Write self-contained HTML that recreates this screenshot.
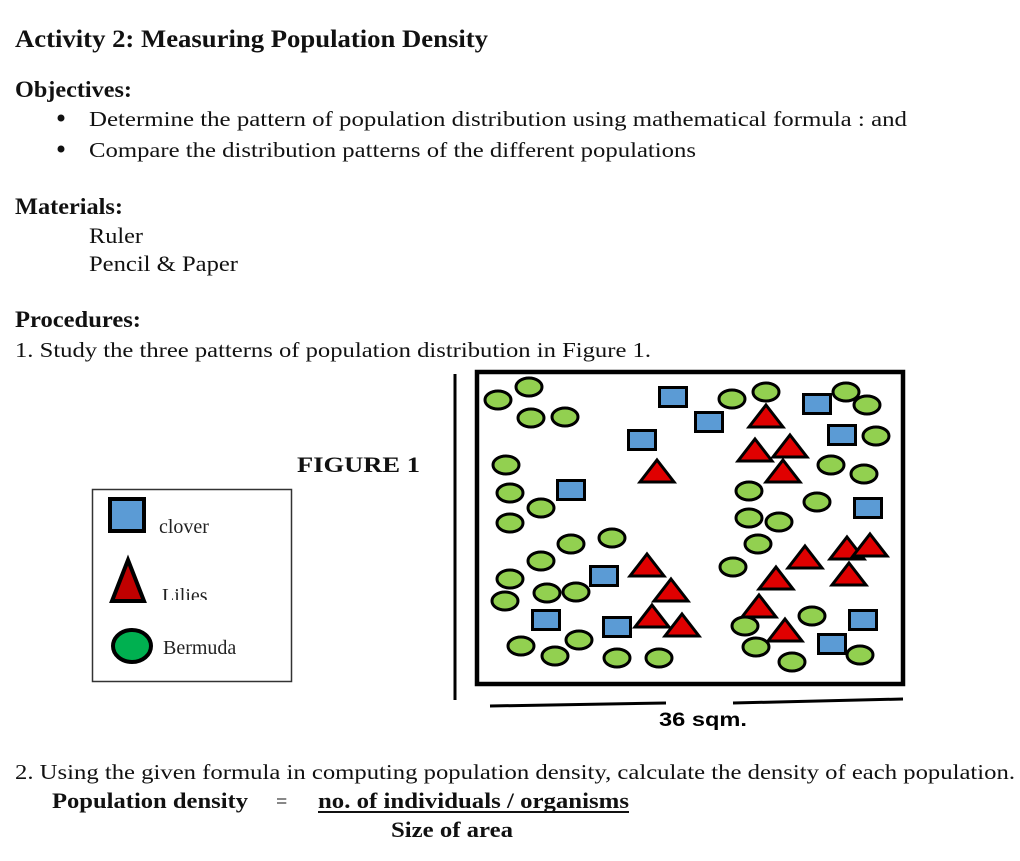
<!DOCTYPE html>
<html><head><meta charset="utf-8"><style>html,body{margin:0;padding:0;background:#fff}svg{display:block}</style></head>
<body>
<svg width="1020" height="861" viewBox="0 0 1020 861" xmlns="http://www.w3.org/2000/svg">
<defs>
<polygon id="t" points="0,-13 17,9 -17,9" fill="#e00000" stroke="#000" stroke-width="3" stroke-linejoin="miter"/>
<rect id="s" x="-13.5" y="-9.5" width="27" height="19" fill="#5b9bd5" stroke="#000" stroke-width="3"/>
<ellipse id="e" rx="13" ry="9" fill="#92d050" stroke="#000" stroke-width="3"/>
</defs>
<g font-family="Liberation Serif, serif" fill="#111">
<text x="15" y="47" font-size="25" font-weight="bold" textLength="473" lengthAdjust="spacingAndGlyphs">Activity 2: Measuring Population Density</text>
<text x="15" y="97" font-size="23" font-weight="bold" textLength="117" lengthAdjust="spacingAndGlyphs">Objectives:</text>
<circle cx="61" cy="118" r="3.5"/>
<circle cx="61" cy="149" r="3.5"/>
<text x="89" y="126" font-size="21" textLength="818" lengthAdjust="spacingAndGlyphs">Determine the pattern of population distribution using  mathematical formula : and</text>
<text x="89" y="157" font-size="21" textLength="607" lengthAdjust="spacingAndGlyphs">Compare the distribution patterns of the different populations</text>
<text x="15" y="214" font-size="23" font-weight="bold" textLength="108" lengthAdjust="spacingAndGlyphs">Materials:</text>
<text x="89" y="243" font-size="22" textLength="54" lengthAdjust="spacingAndGlyphs">Ruler</text>
<text x="89" y="271" font-size="22" textLength="149" lengthAdjust="spacingAndGlyphs">Pencil &amp; Paper</text>
<text x="15" y="327" font-size="23" font-weight="bold" textLength="126" lengthAdjust="spacingAndGlyphs">Procedures:</text>
<text x="15" y="357" font-size="21" textLength="636" lengthAdjust="spacingAndGlyphs">1. Study the three patterns of population distribution in Figure 1.</text>
<text x="297" y="472" font-size="22" font-weight="bold" textLength="123" lengthAdjust="spacingAndGlyphs">FIGURE 1</text>
<text x="15" y="779" font-size="21" textLength="1000" lengthAdjust="spacingAndGlyphs">2. Using the given formula in computing population density, calculate the density of each population.</text>
<text x="52" y="808" font-size="22" font-weight="bold" textLength="196" lengthAdjust="spacingAndGlyphs">Population density</text>
<text x="276" y="808" font-size="20">=</text>
<text x="318" y="808" font-size="22" font-weight="bold" textLength="311" lengthAdjust="spacingAndGlyphs">no. of individuals / organisms</text>
<rect x="318" y="811" width="311" height="2"/>
<text x="391" y="837" font-size="22" font-weight="bold" textLength="122" lengthAdjust="spacingAndGlyphs">Size of area</text>
</g>
<!-- legend -->
<rect x="92.5" y="489.5" width="199" height="192" fill="none" stroke="#333" stroke-width="1.5"/>
<rect x="110" y="499" width="34" height="32" fill="#5b9bd5" stroke="#000" stroke-width="4"/>
<polygon points="128,560 144,601 112,601" fill="#c00000" stroke="#000" stroke-width="4"/>
<ellipse cx="132" cy="646" rx="19" ry="16" fill="#00b050" stroke="#000" stroke-width="4"/>
<g font-family="Liberation Serif, serif" font-size="20" fill="#222">
<text x="159" y="533">clover</text>
<text x="162" y="602">Lilies</text>
<rect x="158" y="600" width="60" height="8" fill="#fff"/>
<text x="163" y="654">Bermuda</text>
</g>
<!-- figure -->
<line x1="455" y1="374" x2="455" y2="700" stroke="#000" stroke-width="3"/>
<rect x="477" y="372" width="426" height="312" fill="none" stroke="#000" stroke-width="4.5"/>
<line x1="490" y1="706" x2="666" y2="703" stroke="#000" stroke-width="3"/>
<line x1="733" y1="703" x2="903" y2="699" stroke="#000" stroke-width="3"/>
<text x="659" y="726" font-family="Liberation Sans, sans-serif" font-weight="bold" font-size="19" textLength="88" lengthAdjust="spacingAndGlyphs">36 sqm.</text>
<g>
<use href="#e" x="498" y="400"/><use href="#e" x="529" y="387"/><use href="#e" x="531" y="418"/><use href="#e" x="565" y="417"/>
<use href="#e" x="506" y="465"/><use href="#e" x="510" y="493"/><use href="#e" x="541" y="508"/><use href="#e" x="510" y="523"/>
<use href="#e" x="571" y="544"/><use href="#e" x="612" y="538"/><use href="#e" x="541" y="561"/><use href="#e" x="510" y="579"/>
<use href="#e" x="547" y="593"/><use href="#e" x="576" y="592"/><use href="#e" x="505" y="601"/><use href="#e" x="521" y="646"/>
<use href="#e" x="555" y="656"/><use href="#e" x="579" y="640"/><use href="#e" x="617" y="658"/><use href="#e" x="659" y="658"/>
<use href="#e" x="732" y="399"/><use href="#e" x="766" y="392"/><use href="#e" x="846" y="392"/><use href="#e" x="867" y="405"/>
<use href="#e" x="876" y="436"/><use href="#e" x="831" y="465"/><use href="#e" x="864" y="474"/><use href="#e" x="749" y="491"/>
<use href="#e" x="817" y="502"/><use href="#e" x="749" y="518"/><use href="#e" x="779" y="522"/><use href="#e" x="758" y="544"/>
<use href="#e" x="733" y="567"/><use href="#e" x="812" y="616"/><use href="#e" x="756" y="647"/>
<use href="#e" x="792" y="662"/><use href="#e" x="860" y="655"/>
<use href="#s" x="673" y="397"/><use href="#s" x="709" y="422"/><use href="#s" x="642" y="440"/><use href="#s" x="571" y="490"/>
<use href="#s" x="817" y="404"/><use href="#s" x="842" y="435"/><use href="#s" x="868" y="508"/><use href="#s" x="604" y="576"/>
<use href="#s" x="546" y="620"/><use href="#s" x="617" y="627"/><use href="#s" x="863" y="620"/><use href="#s" x="832" y="644"/>
<use href="#t" x="766" y="418"/><use href="#t" x="755" y="452"/><use href="#t" x="790" y="448"/><use href="#t" x="783" y="473"/>
<use href="#t" x="657" y="473"/><use href="#t" x="805" y="559"/><use href="#t" x="847" y="550"/><use href="#t" x="870" y="547"/>
<use href="#t" x="776" y="580"/><use href="#t" x="849" y="576"/><use href="#t" x="647" y="567"/><use href="#t" x="671" y="592"/>
<use href="#t" x="652" y="618"/><use href="#t" x="682" y="627"/><use href="#t" x="759" y="608"/>
<use href="#e" x="745" y="626"/><use href="#t" x="785" y="632"/>
</g>
</svg>
</body></html>
